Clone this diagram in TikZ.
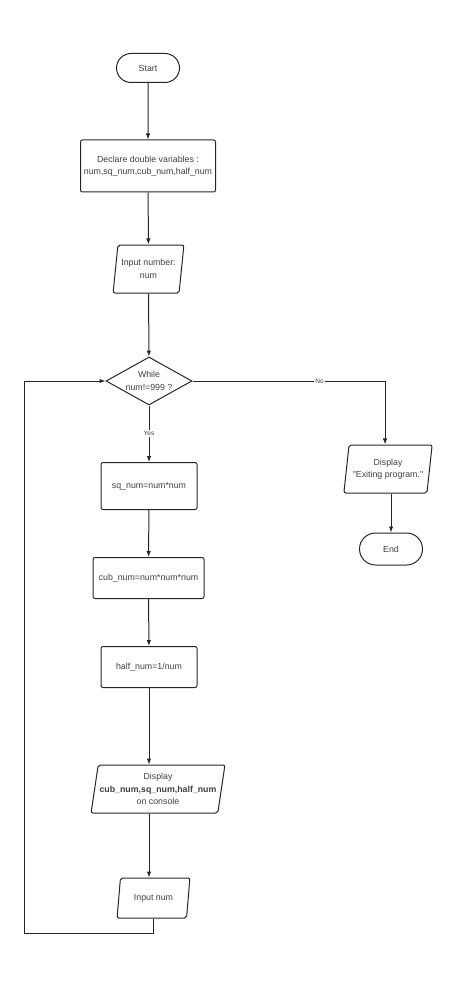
\documentclass[tikz,border=0pt]{standalone}
\usepackage{fontspec}
\setmainfont{Liberation Sans}
\usetikzlibrary{shapes,shapes.misc,shapes.geometric,arrows.meta,positioning,calc}
\definecolor{linegray}{HTML}{262626}
\definecolor{textgray}{HTML}{404040}
\tikzset{
  base/.style={
    draw=linegray,
    line width=1pt,
    text=textgray,
    font=\fontsize{8.8}{12.5}\selectfont,
    align=center,
    inner sep=1pt,
  },
  terminal/.style={base, rounded rectangle, minimum width=65pt, minimum height=29pt},
  process/.style={base, rectangle, rounded corners=2pt, minimum width=96pt, minimum height=41pt},
  io/.style={base, trapezium, trapezium left angle=78, trapezium right angle=102,
    trapezium stretches=true, rounded corners=2pt, minimum height=48pt},
  decision/.style={base, diamond, aspect=1.8, inner sep=0pt, minimum width=86pt, minimum height=48pt},
  flow/.style={draw=linegray, line width=1pt, -{Latex[length=6pt,width=4.5pt]}},
  branch/.style={fill=white, inner sep=1pt, text=textgray, font=\fontsize{6.5}{7}\selectfont},
}

\begin{document}
\begin{tikzpicture}[x=1pt,y=1pt]
        \useasboundingbox (0,0) rectangle (474,-984);

        % main column
        \node (start) [terminal] at (148,-68) {Start};
        \node (declare) [process, minimum width=135pt, minimum height=52pt] at (148,-166)
          {Declare double variables :\\num,sq\_num,cub\_num,half\_num};
        \node (inputnum) [io, minimum width=71pt] at (148.5,-269) {Input number:\\num};
        \node (while) [decision] at (149,-381) {While\\num!=999 ?};
        \node (sqnum) [process, minimum height=47pt] at (149,-486) {sq\_num=num*num};
        \node (cubnum) [process, minimum width=111pt] at (148.5,-578) {cub\_num=num*num*num};
        \node (halfnum) [process] at (149,-667) {half\_num=1/num};
        \node (display) [io, minimum width=134pt] at (158,-789)
          {Display\\\textbf{cub\_num,sq\_num,half\_num}\\on console};
        \node (inputagain) [io, minimum width=73pt, minimum height=40pt] at (153.5,-898) {Input num};

        % exit branch
        \node (exitmsg) [io, minimum width=89pt] at (388,-469) {Display\\\textquotedbl Exiting program.\textquotedbl};
        \node (endnode) [terminal, minimum height=32pt] at (391,-549) {End};

        \coordinate (loopcorner) at (24,-933);

        \draw [flow] (start) -- (declare);
        \draw [flow] (declare) -- (inputnum);
        \draw [flow] (inputnum) -- (while);
        \draw [flow] (while) -- node [branch] {Yes} (sqnum);
        \draw [flow] (sqnum) -- (cubnum);
        \draw [flow] (cubnum) -- (halfnum);
        \draw [flow] (halfnum.south) -- (halfnum.south |- display.north);
        \draw [flow] (halfnum.south |- display.south) -- (halfnum.south |- inputagain.north);
        \draw [flow] (inputagain.south) |- (loopcorner) |- (while.west);

        \draw [flow] (while.east) -| node [branch, pos=0.33] {No} ([xshift=-3pt]exitmsg.north);
        \draw [flow] (endnode.north |- exitmsg.south) -- (endnode.north);
      \end{tikzpicture}
\end{document}
